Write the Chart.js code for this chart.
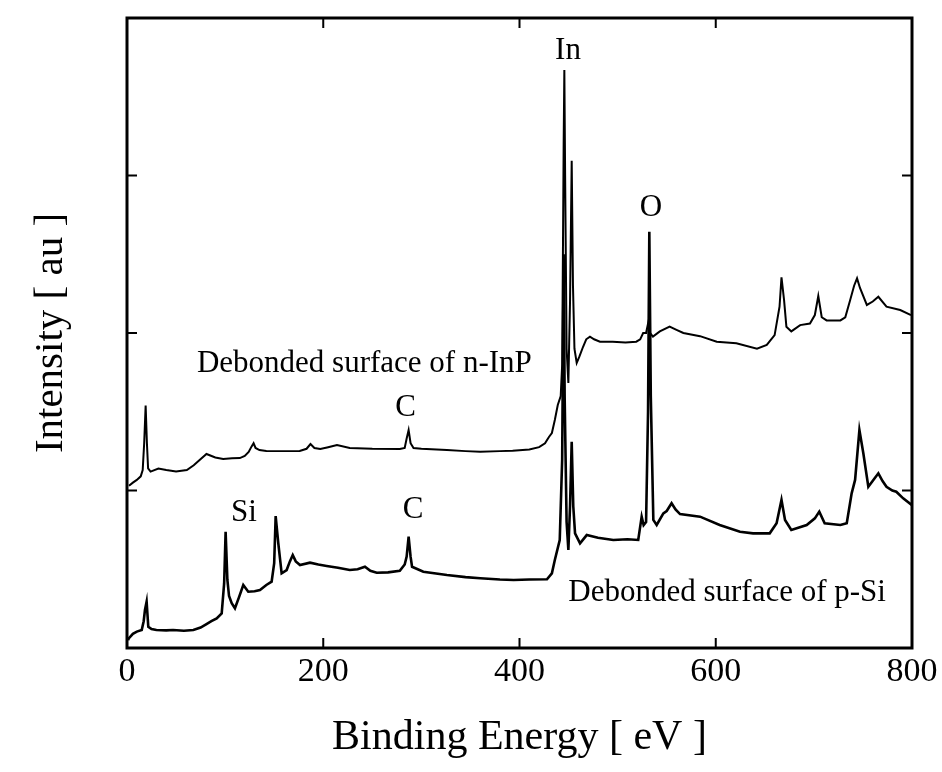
<!DOCTYPE html>
<html>
<head>
<meta charset="utf-8">
<script src="https://cdn.jsdelivr.net/npm/chart.js@4.4.1/dist/chart.umd.min.js"></script>
<style>
  html, body { margin: 0; padding: 0; background: #fff; }
  #wrap { width: 942px; height: 772px; }
</style>
</head>
<body>
<div id="wrap"><canvas id="c" width="942" height="772"></canvas></div>
<script>
// ---- Data ----
// Binding energy [eV] and intensity [au] for the n-InP debonded surface
const inpEnergy = [2,6,10,14,16,17.5,19,20.3,21.5,24,32,40,50,61,68,74,81,90,98,107,115,120,124,127,129,131,135,142,160,176,183,187,191,197,205,214,227,250,278,283,285,287,289,292,300,326,345,360,380,393,410,420,426,430,433,436,439,442,443.5,445,445.7,446.5,448,449.8,451.5,453.2,454.5,456,458.3,461,464.7,468,471.8,476,482,495,508,519,523,526,529,531,533,536,543,553,560,567,584,601,621,642,652,660,665,667,669.6,672,677,686,696,701,704.5,708,713,727,732,737,741,744,747,754,760,765.7,774,788,799];
const inpIntensity = [1.03,1.05,1.067,1.09,1.13,1.30,1.54,1.30,1.14,1.12,1.14,1.13,1.12,1.13,1.16,1.194,1.232,1.21,1.20,1.205,1.206,1.22,1.245,1.28,1.30,1.27,1.257,1.251,1.25,1.251,1.265,1.295,1.27,1.263,1.275,1.289,1.27,1.265,1.263,1.27,1.33,1.384,1.30,1.27,1.265,1.257,1.25,1.246,1.25,1.253,1.26,1.275,1.30,1.34,1.365,1.448,1.543,1.60,1.8,3.2,3.67,3.0,1.9,1.683,2.2,3.094,2.3,1.9,1.81,1.85,1.911,1.96,1.977,1.96,1.945,1.945,1.94,1.945,1.96,2.0,2.0,2.06,2.0,1.977,2.01,2.04,2.02,2.0,1.98,1.945,1.935,1.90,1.924,1.987,2.167,2.354,2.21,2.04,2.01,2.05,2.06,2.114,2.235,2.10,2.08,2.08,2.10,2.21,2.30,2.347,2.286,2.178,2.20,2.23,2.167,2.146,2.114];

// Binding energy [eV] and intensity [au] for the p-Si debonded surface
const siEnergy = [1,2,6,10,15,17,18.3,20,21,21.7,25,30,40,47,58,67.6,75,81,86,91.4,96.5,99,100.5,102.3,104,106.7,110,114,118.5,123.6,130,135.5,142,147.4,150,151.5,154.2,157.6,162.7,166,168.9,172,176.3,186.5,195,203.5,215,227,235,242.5,248,254.5,266,278,283,285,287,289,290.5,302,326,345,360,380,394,410,428,433,436,441,443.5,445,446,448,449.8,451.5,453.2,454.8,456.6,461.7,468.5,480,495.6,510,521,524.5,526.5,529,531,532.3,533.8,536.4,539.8,546.6,550,555,559,563.6,584,604,624.7,638,655,662,667,670.6,677,692.7,701,705.5,711,727,733.5,738.5,742,746.4,750.4,755.5,761,765.7,770,774,780,784,791,799.7];
const siIntensity = [0.05,0.062,0.09,0.104,0.114,0.17,0.241,0.294,0.2,0.135,0.12,0.114,0.112,0.114,0.11,0.114,0.13,0.152,0.17,0.188,0.22,0.41,0.738,0.432,0.33,0.284,0.252,0.32,0.40,0.357,0.36,0.368,0.40,0.421,0.538,0.838,0.665,0.474,0.495,0.55,0.59,0.55,0.527,0.542,0.53,0.521,0.51,0.495,0.50,0.516,0.49,0.478,0.48,0.49,0.53,0.58,0.707,0.58,0.516,0.484,0.463,0.45,0.443,0.435,0.432,0.435,0.436,0.474,0.559,0.686,1.2,2.5,1.6,0.8,0.622,0.9,1.31,0.9,0.728,0.665,0.717,0.70,0.686,0.69,0.686,0.834,0.78,0.80,1.5,2.643,1.6,0.813,0.781,0.855,0.87,0.919,0.88,0.85,0.834,0.781,0.738,0.728,0.728,0.792,0.94,0.813,0.749,0.781,0.823,0.866,0.792,0.781,0.792,0.982,1.067,1.384,1.236,1.024,1.07,1.109,1.06,1.024,1.0,0.992,0.95,0.908];

// Axis ticks
const xTicks = [0, 200, 400, 600, 800];
const yTicks = [1, 2, 3];

// Text annotations (data coordinates)
const labels = [
  { text: 'In', x: 449.4, y: 3.79, align: 'center' },
  { text: 'O', x: 534, y: 2.794, align: 'center' },
  { text: 'C', x: 283.8, y: 1.527, align: 'center' },
  { text: 'C', x: 291.5, y: 0.876, align: 'center' },
  { text: 'Si', x: 119.2, y: 0.860, align: 'center' },
  { text: 'Debonded surface of n-InP', x: 71.3, y: 1.754, align: 'left', base: 'alphabetic' },
  { text: 'Debonded surface of p-Si', x: 449.7, y: 0.298, align: 'left', base: 'alphabetic' }
];

const SERIF = '"Liberation Serif", "Times New Roman", serif';

function pts(xs, ys) { return xs.map((x, i) => ({ x: x, y: ys[i] })); }

const framePlugin = {
  id: 'frame',
  afterDatasetsDraw(chart) {
    const { ctx, chartArea: a, scales } = chart;
    ctx.save();
    ctx.strokeStyle = '#000';
    // inward ticks
    ctx.lineWidth = 2;
    const tl = 10;
    ctx.beginPath();
    xTicks.forEach(v => {
      const px = scales.x.getPixelForValue(v);
      ctx.moveTo(px, a.bottom); ctx.lineTo(px, a.bottom - tl);
      ctx.moveTo(px, a.top); ctx.lineTo(px, a.top + tl);
    });
    yTicks.forEach(v => {
      const py = scales.y.getPixelForValue(v);
      ctx.moveTo(a.left, py); ctx.lineTo(a.left + tl, py);
      ctx.moveTo(a.right, py); ctx.lineTo(a.right - tl, py);
    });
    ctx.stroke();
    // frame
    ctx.lineWidth = 3;
    ctx.strokeRect(a.left, a.top, a.right - a.left, a.bottom - a.top);
    // annotations
    ctx.fillStyle = '#000';
    ctx.font = '31px ' + SERIF;
    labels.forEach(l => {
      ctx.textAlign = l.align;
      ctx.textBaseline = l.base || 'middle';
      ctx.fillText(l.text, scales.x.getPixelForValue(l.x), scales.y.getPixelForValue(l.y));
    });
    ctx.restore();
  }
};

new Chart(document.getElementById('c'), {
  type: 'line',
  data: {
    datasets: [
      { label: 'n-InP', data: pts(inpEnergy, inpIntensity), borderColor: '#000', borderWidth: 2, pointRadius: 0, tension: 0, fill: false },
      { label: 'p-Si', data: pts(siEnergy, siIntensity), borderColor: '#000', borderWidth: 2.6, pointRadius: 0, tension: 0, fill: false }
    ]
  },
  options: {
    responsive: false,
    animation: false,
    layout: { padding: { top: 18, right: 30, left: 0, bottom: 0 } },
    plugins: { legend: { display: false }, tooltip: { enabled: false } },
    scales: {
      x: {
        type: 'linear', min: 0, max: 800,
        afterBuildTicks: s => { s.ticks = xTicks.map(v => ({ value: v })); },
        ticks: { color: '#000', font: { family: SERIF, size: 34 }, padding: 4, maxRotation: 0 },
        grid: { display: false, drawTicks: false },
        border: { display: false },
        title: { display: true, text: 'Binding Energy [ eV ]', color: '#000', font: { family: SERIF, size: 42 }, padding: { top: 0, bottom: 9 } },
        afterFit: s => { s.height = 124; }
      },
      y: {
        type: 'linear', min: 0, max: 4,
        ticks: { display: false },
        grid: { display: false, drawTicks: false },
        border: { display: false },
        title: { display: true, text: 'Intensity [ au ]', color: '#000', font: { family: SERIF, size: 41 }, padding: { top: 27, bottom: 0 } },
        afterFit: s => { s.width = 127; }
      }
    }
  },
  plugins: [framePlugin]
});
</script>
</body>
</html>
